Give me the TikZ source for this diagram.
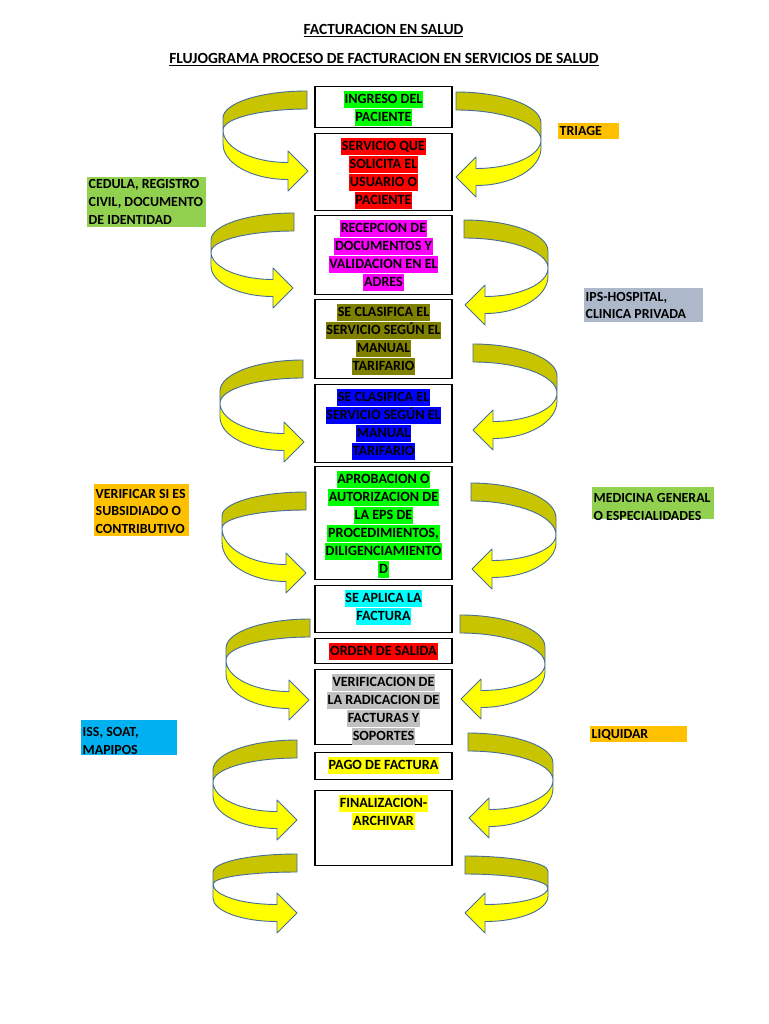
\documentclass[tikz,border=0pt]{standalone}
\usepackage{fontspec}
\setmainfont{Carlito}
\usepackage{xcolor}
\definecolor{hgreen}{RGB}{0,255,0}
\definecolor{hred}{RGB}{255,0,0}
\definecolor{hmag}{RGB}{255,0,255}
\definecolor{holive}{RGB}{128,128,0}
\definecolor{hblue}{RGB}{0,0,255}
\definecolor{hcyan}{RGB}{0,255,255}
\definecolor{hgray}{RGB}{192,192,192}
\definecolor{hyel}{RGB}{255,255,0}
\definecolor{orng}{RGB}{255,192,0}
\definecolor{lgreen}{RGB}{146,208,80}
\definecolor{bgray}{RGB}{173,185,202}
\definecolor{sky}{RGB}{0,176,240}
\definecolor{olv}{RGB}{200,196,0}
\definecolor{yel}{RGB}{255,255,0}
\definecolor{edg}{RGB}{70,110,150}
\setlength{\fboxsep}{0pt}
\newcommand{\tfont}{\fontsize{14.1}{18}\selectfont\bfseries}
\newcommand{\lfont}{\fontsize{13.9}{17.6}\selectfont\bfseries}
\newcommand{\hfont}{\fontsize{15.5}{18}\selectfont\bfseries}
\newcommand{\hlt}[2]{\colorbox{#1}{\rule[-3.7pt]{0pt}{16.4pt}\kern0.8pt#2\kern0.8pt}}
% #1 dir (-1 extreme on left, 1 extreme on right), #2 tail x, #3 tail top y,
% #4 extreme x, #5 twist y, #6 tip x, #7 tip y
\newcommand{\ribbon}[7]{%
  \pgfmathsetmacro{\rbW}{18}%
  \pgfmathsetmacro{\rbE}{(#1<0)?12:17}%
  \pgfmathsetmacro{\rbD}{(#1<0)?14:8}%
  \pgfmathsetmacro{\rbS}{8.5}%
  \pgfmathsetmacro{\rbH}{20}%
  \pgfmathsetmacro{\rbXb}{#6+#1*20}%
  \pgfmathsetmacro{\rbCa}{#2+0.552*(#4-#2)}%
  \pgfmathsetmacro{\rbCb}{(#5-\rbE)-0.552*((#5-\rbE)-#3)}%
  \pgfmathsetmacro{\rbCc}{#5-0.552*(#5-#3-\rbW)}%
  \pgfmathsetmacro{\rbCd}{#5+0.552*(#7-\rbS-#5)}%
  \pgfmathsetmacro{\rbCe}{\rbXb+0.552*(#4-\rbXb)}%
  \pgfmathsetmacro{\rbCf}{#5+\rbD+0.552*(#7+\rbS-#5-\rbD)}%
  \filldraw[backside] (#2,#3) .. controls (\rbCa,#3) and (#4,\rbCb) .. (#4,#5-\rbE)
     -- (#4,#5) .. controls (#4,\rbCc) and (\rbCa,#3+\rbW) .. (#2,#3+\rbW) -- cycle;
  \filldraw[frontside] (#4,#5) .. controls (#4,\rbCd) and (\rbCe,#7-\rbS) .. (\rbXb,#7-\rbS)
     -- (\rbXb,#7-\rbH) -- (#6,#7) -- (\rbXb,#7+\rbH) -- (\rbXb,#7+\rbS)
     .. controls (\rbCe,#7+\rbS) and (#4,\rbCf) .. (#4,#5+\rbD) -- cycle;
}
\tikzset{
  box/.style={draw, line width=1.1pt, minimum width=137pt, inner sep=0pt, anchor=north},
  txt/.style={anchor=north, inner sep=0pt, align=center, font=\tfont},
  labfill/.style={anchor=north west, inner sep=0pt},
  labtxt/.style={anchor=north west, inner sep=0pt, align=left, font=\lfont},
  ttl/.style={anchor=base, inner sep=0pt, font=\hfont},
  backside/.style={fill=olv, draw=edg, line width=0.9pt, line join=round},
  frontside/.style={fill=yel, draw=edg, line width=0.9pt, line join=round},
}
\begin{document}
\begin{tikzpicture}[x=1pt,y=-1pt]
\fill[white] (0,0) rectangle (768,1024);
\useasboundingbox (0,0) rectangle (768,1024);

% titles
\node[ttl] (title1) at (383.5,35) {\underline{FACTURACION EN SALUD}};
\node[ttl] (title2) at (384,64) {\underline{FLUJOGRAMA PROCESO DE FACTURACION EN SERVICIOS DE SALUD}};

% curved ribbon arrows, left side
\ribbon{-1}{307}{91}{223}{130}{308}{171}
\ribbon{-1}{294}{213}{211}{252}{293}{288}
\ribbon{-1}{303}{360}{220}{403}{304}{442}
\ribbon{-1}{306}{492}{222}{528}{306}{573}
\ribbon{-1}{310}{619}{226}{660}{309}{700}
\ribbon{-1}{297}{740}{213}{782}{297}{820}
\ribbon{-1}{297}{854}{213}{884}{297}{913}
% right side
\ribbon{1}{456}{92}{541}{140}{456}{177}
\ribbon{1}{464}{220}{548}{268}{465}{305}
\ribbon{1}{473}{344}{557}{393}{473}{430}
\ribbon{1}{471}{483}{556}{535}{472}{569}
\ribbon{1}{460}{615}{545}{664}{461}{699}
\ribbon{1}{468}{733}{553}{780}{469}{818}
\ribbon{1}{465}{856}{548}{888}{465}{913}

% process boxes
\node[box, minimum height=41pt] (b1) at (383.5,86) {};
\node[box, minimum height=77pt] (b2) at (383.5,133) {};
\node[box, minimum height=79pt] (b3) at (383.5,215) {};
\node[box, minimum height=79pt] (b4) at (383.5,299) {};
\node[box, minimum height=78pt] (b5) at (383.5,384) {};
\node[box, minimum height=113pt] (b6) at (383.5,466) {};
\node[box, minimum height=47pt] (b7) at (383.5,585) {};
\node[box, minimum height=25pt] (b8) at (383.5,638) {};
\node[box, minimum height=75pt] (b9) at (383.5,669) {};
\node[box, minimum height=27pt] (b10) at (383.5,752) {};
\node[box, minimum height=75pt] (b11) at (383.5,790) {};

\node[txt] (t1) at ([yshift=-5pt]b1.north) {\hlt{hgreen}{INGRESO DEL}\\\hlt{hgreen}{PACIENTE}};
\node[txt] (t2) at ([yshift=-5pt]b2.north) {\hlt{hred}{SERVICIO QUE}\\\hlt{hred}{SOLICITA EL}\\\hlt{hred}{USUARIO O}\\\hlt{hred}{PACIENTE}};
\node[txt] (t3) at ([yshift=-5pt]b3.north) {\hlt{hmag}{RECEPCION DE}\\\hlt{hmag}{DOCUMENTOS Y}\\\hlt{hmag}{VALIDACION EN EL}\\\hlt{hmag}{ADRES}};
\node[txt] (t4) at ([yshift=-5pt]b4.north) {\hlt{holive}{SE CLASIFICA EL}\\\hlt{holive}{SERVICIO SEGÚN EL}\\\hlt{holive}{MANUAL}\\\hlt{holive}{TARIFARIO}};
\node[txt] (t5) at ([yshift=-5pt]b5.north) {\hlt{hblue}{SE CLASIFICA EL}\\\hlt{hblue}{SERVICIO SEGÚN EL}\\\hlt{hblue}{MANUAL}\\\hlt{hblue}{TARIFARIO}};
\node[txt] (t6) at ([yshift=-5pt]b6.north) {\hlt{hgreen}{APROBACION O}\\\hlt{hgreen}{AUTORIZACION DE}\\\hlt{hgreen}{LA EPS DE}\\\hlt{hgreen}{PROCEDIMIENTOS,}\\\hlt{hgreen}{DILIGENCIAMIENTO}\\\hlt{hgreen}{D}};
\node[txt] (t7) at ([yshift=-5pt]b7.north) {\hlt{hcyan}{SE APLICA LA}\\\hlt{hcyan}{FACTURA}};
\node[txt] (t8) at ([yshift=-5pt]b8.north) {\hlt{hred}{ORDEN DE SALIDA}};
\node[txt] (t9) at ([yshift=-5pt]b9.north) {\hlt{hgray}{VERIFICACION DE}\\\hlt{hgray}{LA RADICACION DE}\\\hlt{hgray}{FACTURAS Y}\\\hlt{hgray}{SOPORTES}};
\node[txt] (t10) at ([yshift=-5pt]b10.north) {\hlt{hyel}{PAGO DE FACTURA}};
\node[txt] (t11) at ([yshift=-5pt]b11.north) {\hlt{hyel}{FINALIZACION-}\\\hlt{hyel}{ARCHIVAR}};

% side labels: shaded box, then its text
\node[labfill, fill=orng, minimum width=61pt, minimum height=16pt] (triage) at (558,123) {};
\node[labtxt] (triaget) at (559.5,126) {TRIAGE};
\node[labfill, fill=lgreen, minimum width=119pt, minimum height=50pt] (cedula) at (87,177) {};
\node[labtxt] (cedulat) at (88.5,179.5) {CEDULA, REGISTRO\\CIVIL, DOCUMENTO\\DE IDENTIDAD};
\node[labfill, fill=bgray, minimum width=119pt, minimum height=34pt] (ips) at (584,288) {};
\node[labtxt] (ipst) at (585.5,292) {IPS-HOSPITAL,\\CLINICA PRIVADA};
\node[labfill, fill=orng, minimum width=95pt, minimum height=52pt] (verif) at (94,484) {};
\node[labtxt] (verift) at (95.5,489) {VERIFICAR SI ES\\SUBSIDIADO O\\CONTRIBUTIVO};
\node[labfill, fill=lgreen, minimum width=122pt, minimum height=32pt] (medic) at (592,487) {};
\node[labtxt] (medict) at (593.5,493.5) {MEDICINA GENERAL\\O ESPECIALIDADES};
\node[labfill, fill=sky, minimum width=96pt, minimum height=35pt] (iss) at (81,720) {};
\node[labtxt] (isst) at (82.5,727.5) {ISS, SOAT,\\MAPIPOS};
\node[labfill, fill=orng, minimum width=97pt, minimum height=16pt] (liq) at (590,726) {};
\node[labtxt] (liqt) at (591.5,729) {LIQUIDAR};
\end{tikzpicture}
\end{document}
